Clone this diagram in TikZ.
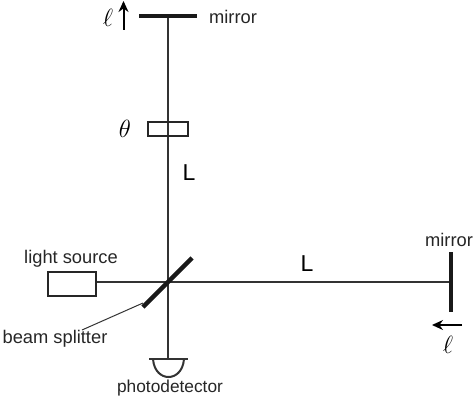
\documentclass[tikz,border=0pt]{standalone}
\usepackage{fontspec}
\setmainfont{Liberation Sans}
\usetikzlibrary{arrows.meta}
\tikzset{
  lab/.style={font=\fontsize{18.3}{20}\selectfont, inner sep=0pt, text=black!85},
  sym/.style={font=\fontsize{26}{28}\selectfont, inner sep=0pt},
  bigl/.style={font=\fontsize{23}{26}\selectfont, inner sep=0pt},
  beam/.style={line width=2pt, draw=black!80},
  mirrorbar/.style={line width=4.5pt, draw=black!90},
  boxed/.style={draw=black!85, line width=2.2pt, fill=white, inner sep=0pt},
  motion/.style={line width=2pt, -{Stealth[length=11pt,width=10pt]}},
}
\begin{document}
\begin{tikzpicture}[x=1pt,y=-1pt]
\useasboundingbox (0,0) rectangle (474,412);
\coordinate (c) at (167.5,282);
\coordinate (mt) at (167.5,16);
\coordinate (mtl) at (139,16);
\coordinate (mtr) at (197,16);
\coordinate (mr) at (451,282);
\coordinate (mrt) at (451,252);
\coordinate (mrb) at (451,312);
\coordinate (dt) at (167.5,359);
\coordinate (dl) at (149,359);
\coordinate (dr) at (188,359);
\coordinate (dal) at (153,359);
\coordinate (dar) at (184,359);
\coordinate (bsa) at (143,307);
\coordinate (bsb) at (192,258);
\coordinate (lead) at (143,303);
\coordinate (leadend) at (82,330);
\coordinate (upa) at (123.5,30);
\coordinate (upb) at (123.5,1);
\coordinate (lfa) at (462,325);
\coordinate (lfb) at (432,325);
\node[boxed, minimum width=48pt, minimum height=24pt] (src) at (72,284) {};
\draw[beam] (mt) -- (dt);
\draw[beam] (src.east |- c) -- (mr);
\node[draw=black!85, line width=1.8pt, minimum width=40pt, minimum height=14pt, inner sep=0pt] (plate) at (168,129) {};
\draw[mirrorbar] (mtl) -- (mtr);
\draw[mirrorbar] (mrt) -- (mrb);
\draw[mirrorbar] (bsa) -- (bsb);
\draw[beam] (dl) -- (dr);
\draw[beam] (dal) .. controls (154,372) and (162,377) .. (168.5,377) .. controls (175,377) and (183,372) .. (dar);
\draw[line width=1pt, draw=black!80] (lead) -- (leadend);
\draw[motion] (upa) -- (upb);
\draw[motion] (lfa) -- (lfb);
\node[lab] (m1) at (233,17) {mirror};
\node[lab] (m2) at (449,240) {mirror};
\node[lab] (ls) at (71,259) {light source};
\node[lab] (bs) at (55,339) {beam splitter};
\node[lab, font=\fontsize{17.3}{20}\selectfont] (pd) at (170,388) {photodetector};
\node[bigl] (l1) at (189,173) {L};
\node[bigl] (l2) at (307,264) {L};
\node[sym] (th) at (125,129) {$\theta$};
\node[sym] (e1) at (108,18) {$\ell$};
\node[sym] (e2) at (448,345) {$\ell$};
\end{tikzpicture}
\end{document}
